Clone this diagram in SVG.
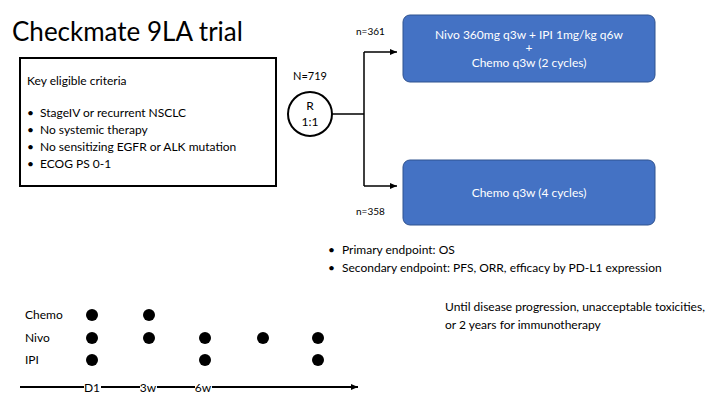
<svg xmlns="http://www.w3.org/2000/svg" width="720" height="405" viewBox="0 0 720 405">
<style>
text{font-family:Lato,"Liberation Sans",sans-serif;fill:#000}
.s{font-size:12px}
.w{fill:#fff;font-size:12px}
.b{fill:#4472C4;stroke:#2F528F;stroke-width:1}
</style>
<defs><marker id="a" markerWidth="8" markerHeight="8" refX="7" refY="4" orient="auto" markerUnits="userSpaceOnUse"><path d="M0,1 L7,4 L0,7z" fill="#000"/></marker></defs>
<rect width="720" height="405" fill="#fff"/>
<text x="12" y="41" font-size="26">Checkmate 9LA trial</text>
<g id="criteria"><rect x="20" y="58" width="256" height="128" fill="#fff" stroke="#000" stroke-width="2"/>
<text class="s" x="27" y="85">Key eligible criteria</text>
<text class="s" x="27" y="117">•</text><text class="s" x="40" y="117">StageIV or recurrent NSCLC</text>
<text class="s" x="27" y="134">•</text><text class="s" x="40" y="134">No systemic therapy</text>
<text class="s" x="27" y="151">•</text><text class="s" x="40" y="151">No sensitizing EGFR or ALK mutation</text>
<text class="s" x="27" y="168">•</text><text class="s" x="40" y="168">ECOG PS 0-1</text></g>
<g id="rand"><text x="310" y="80" text-anchor="middle" font-size="11">N=719</text>
<circle cx="310" cy="114" r="22" fill="#fff" stroke="#000" stroke-width="2"/>
<text class="s" x="310" y="110" text-anchor="middle">R</text><text class="s" x="310" y="126" text-anchor="middle">1:1</text></g>
<g id="connectors" stroke="#000" stroke-width="1.5" fill="none">
<path d="M332,114 H364 M364,52 V186"/>
<path d="M364,52 H397" marker-end="url(#a)"/>
<path d="M364,186 H397" marker-end="url(#a)"/>
<path d="M20,387 H358" marker-end="url(#a)" stroke-width="2"/>
</g>
<g id="arm1"><text x="356" y="35" font-size="10">n=361</text>
<rect class="b" x="403" y="15" width="252" height="67" rx="7"/>
<text class="w" x="529" y="39" text-anchor="middle" font-size="11">Nivo 360mg q3w + IPI 1mg/kg q6w</text>
<text class="w" x="529" y="52" text-anchor="middle" font-size="11">+</text>
<text class="w" x="529" y="67" text-anchor="middle" font-size="11">Chemo q3w (2 cycles)</text></g>
<g id="arm2"><text x="356" y="215" font-size="10">n=358</text>
<rect class="b" x="403" y="160" width="252" height="65" rx="7"/>
<text class="w" x="529" y="197" text-anchor="middle">Chemo q3w (4 cycles)</text></g>
<g id="endpoints"><text class="s" x="328" y="254">•</text><text class="s" x="342" y="254">Primary endpoint: OS</text>
<text class="s" x="328" y="272">•</text><text class="s" x="342" y="272">Secondary endpoint: PFS, ORR, efficacy by PD-L1 expression</text></g>
<text class="s" x="445" y="311">Until disease progression, unacceptable toxicities,</text>
<text class="s" x="445" y="329">or 2 years for immunotherapy</text>
<g id="timeline">
<text class="s" x="25" y="319">Chemo</text><text class="s" x="25" y="342">Nivo</text><text class="s" x="25" y="364">IPI</text>
<g fill="#000"><circle cx="92" cy="315" r="6"/><circle cx="149" cy="315" r="6"/>
<circle cx="92" cy="338" r="6"/><circle cx="149" cy="338" r="6"/><circle cx="205" cy="338" r="6"/><circle cx="263" cy="338" r="6"/><circle cx="318" cy="338" r="6"/>
<circle cx="92" cy="360" r="6"/><circle cx="205" cy="360" r="6"/><circle cx="318" cy="360" r="6"/></g>
<g font-size="12"><rect x="84" y="381" width="17" height="12" fill="#fff"/><text x="92" y="392" text-anchor="middle">D1</text>
<rect x="140" y="381" width="17" height="12" fill="#fff"/><text x="148" y="392" text-anchor="middle">3w</text>
<rect x="195" y="381" width="17" height="12" fill="#fff"/><text x="203" y="392" text-anchor="middle">6w</text></g>
</g>
</svg>
